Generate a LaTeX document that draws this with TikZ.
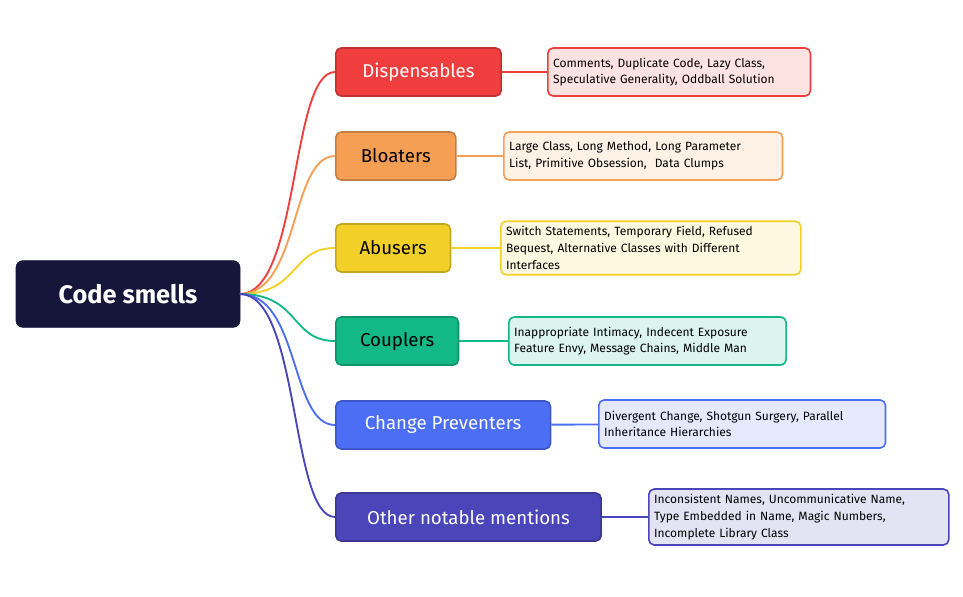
\documentclass[tikz,border=0pt]{standalone}
\usepackage{fontspec}
\setmainfont{Fira Sans}
\begin{document}
\begin{tikzpicture}[x=0.75pt,y=-0.75pt,
  br/.style={draw=#1!80!black, fill=#1, rounded corners=4pt, minimum height=36pt, anchor=west, inner sep=6pt, font=\fontsize{14}{16}\selectfont, line width=1.2pt},
  det/.style={draw=#1, fill=#1!15, rounded corners=4pt, anchor=west, align=left, inner sep=4pt, minimum height=36pt, font=\fontsize{9}{12.5}\selectfont, line width=1.2pt},
  ln/.style={draw=#1, line width=1.4pt}]
\definecolor{cR}{HTML}{F03E3E}
\definecolor{cO}{HTML}{F59F54}
\definecolor{cY}{HTML}{F2D027}
\definecolor{cG}{HTML}{12B886}
\definecolor{cB}{HTML}{4C6EF5}
\definecolor{cI}{HTML}{4A45B8}
\definecolor{cRoot}{HTML}{16163A}
\useasboundingbox (0,0) rectangle (963,596);
\node[draw=cRoot, fill=cRoot, rounded corners=5pt, minimum width=168pt, minimum height=50pt, text=white, font=\fontsize{19}{22}\selectfont\bfseries] (root) at (128,294) {Code smells};
\node[br=cR, text=white, minimum width=124pt] (b1) at (335,72) {Dispensables};
\node[br=cO, text=black, minimum width=90pt] (b2) at (335,156) {Bloaters};
\node[br=cY, text=black, minimum width=86pt] (b3) at (335,248) {Abusers};
\node[br=cG, text=black, minimum width=92pt] (b4) at (335,341) {Couplers};
\node[br=cB, text=white, minimum width=161pt] (b5) at (335,425) {Change Preventers};
\node[br=cI, text=white, minimum width=199pt] (b6) at (335,517) {Other notable mentions};
\node[det=cR, text width=189pt] (d1) at (547,72) {Comments, Duplicate Code, Lazy Class,\\Speculative Generality, Oddball Solution};
\node[det=cO, text width=201pt] (d2) at (503,156) {Large Class, Long Method, Long Parameter\\List, Primitive Obsession,\ \ Data Clumps};
\node[det=cY, text width=217pt] (d3) at (500,248) {Switch Statements, Temporary Field, Refused\\Bequest, Alternative Classes with Different\\Interfaces};
\node[det=cG, text width=200pt] (d4) at (508,341) {Inappropriate Intimacy, Indecent Exposure\\Feature Envy, Message Chains, Middle Man};
\node[det=cB, text width=207pt] (d5) at (598,424) {Divergent Change, Shotgun Surgery, Parallel\\Inheritance Hierarchies};
\node[det=cI, text width=217pt] (d6) at (648,517) {Inconsistent Names, Uncommunicative Name,\\Type Embedded in Name, Magic Numbers,\\Incomplete Library Class};
\coordinate (o) at (240,294);
\draw[ln=cR] (o) .. controls (300,294) and (290,72) .. (b1.west);
\draw[ln=cO] (o) .. controls (300,294) and (290,156) .. (b2.west);
\draw[ln=cY] (o) .. controls (300,294) and (290,248) .. (b3.west);
\draw[ln=cG] (o) .. controls (300,294) and (290,341) .. (b4.west);
\draw[ln=cB] (o) .. controls (300,294) and (290,425) .. (b5.west);
\draw[ln=cI] (o) .. controls (300,294) and (290,517) .. (b6.west);
\draw[ln=cR] (b1) -- (d1);
\draw[ln=cO] (b2) -- (d2);
\draw[ln=cY] (b3) -- (d3);
\draw[ln=cG] (b4) -- (d4);
\draw[ln=cB] (b5) -- (d5);
\draw[ln=cI] (b6) -- (d6);
\end{tikzpicture}
\end{document}
